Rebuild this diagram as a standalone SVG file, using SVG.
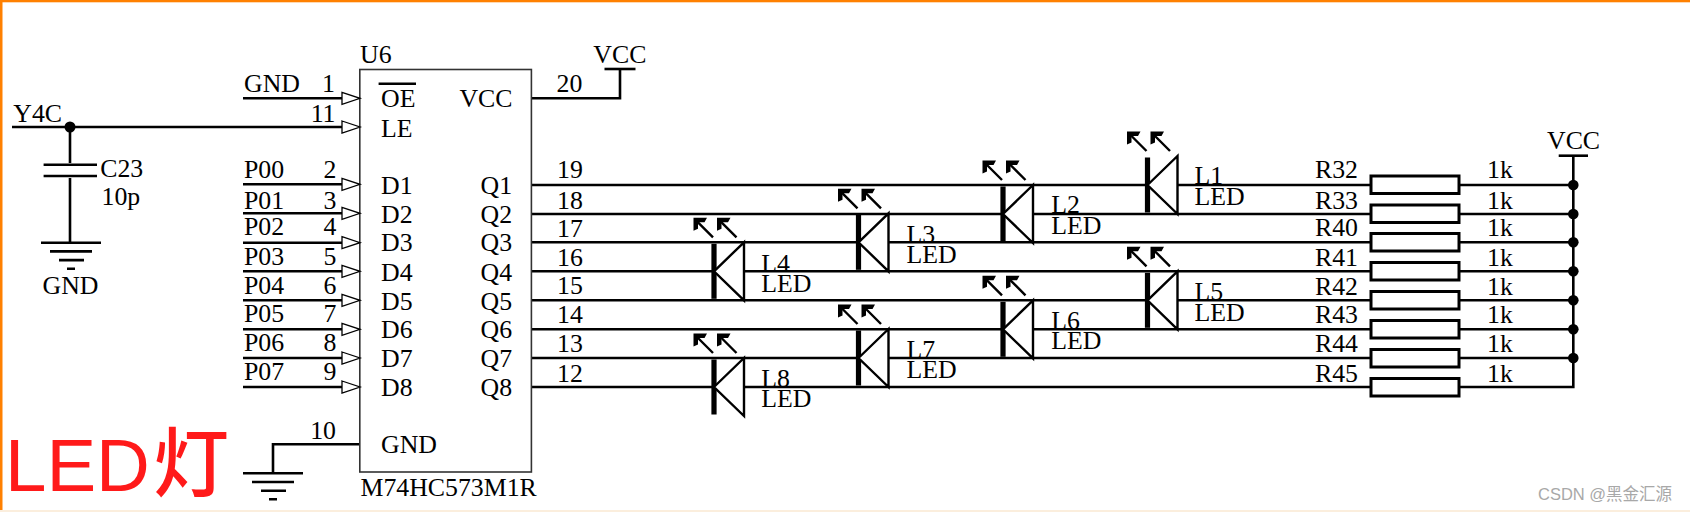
<svg xmlns="http://www.w3.org/2000/svg" xmlns:xlink="http://www.w3.org/1999/xlink" width="1690" height="512" viewBox="0 0 1690 512">
<style>
text{font-family:"Liberation Serif","Noto Sans CJK SC",serif;font-size:25.8px;fill:#000}
.w{fill:none;stroke:#000;stroke-width:2.6}
.thin{fill:none;stroke:#000;stroke-width:2.4}
.led{fill:#fff;stroke:#000;stroke-width:2.4}
.bar{fill:#000}
.res{fill:#fff;stroke:#000;stroke-width:3}
.dot{fill:#000}
.pin{fill:#fff;stroke:#000;stroke-width:1.3}
.r{text-anchor:end}
</style>
<defs>
<g id="ledsym">
<rect class="bar" x="-2.6" y="-27.5" width="5.2" height="55"/>
<path class="led" d="M0 0L30 -29V29Z"/>
<path class="thin" d="M-1 -34L-19 -52M22.500 -34L4.500 -52"/>
<path d="M-20.500 -53.500H-7L-9.500 -49H-16V-42.500L-20.500 -40.500Z M3 -53.500H16.500L14 -49H7.500V-42.500L3 -40.500Z" fill="#000"/>
</g>
<g id="gnd">
<path class="w" d="M-30 0H30M-21 8.700H21M-12 17.400H13M-4 26H4"/>
</g>
</defs>
<rect x="0" y="0" width="1690" height="512" fill="#fff"/>
<rect x="0" y="0" width="1690" height="2.300" fill="#ff8000"/>
<rect x="0" y="0" width="2.500" height="512" fill="#ff8000"/>
<rect x="0" y="510" width="1690" height="2" fill="#fbeedd"/>

<g id="connectors">
<path class="w" d="M243 98.300H342M12 127H342M70 127V242.700M243 184.300H342M243 213.300H342M243 242.700H342M243 271.300H342M243 300.300H342M243 329.300H342M243 358H342M243 387H342"/>
<path class="w" d="M360 444.300H273V473.300"/>
<path class="w" d="M531.500 98.300H620V69"/>
<path class="w" d="M531.500 185H1371M531.500 214H1371M531.500 242.300H1371M531.500 271.300H1371M531.500 300.300H1371M531.500 329.300H1371M531.500 358H1371M531.500 387H1371"/>
<path class="w" d="M1459 185H1573.300M1459 214H1573.300M1459 242.300H1573.300M1459 271.300H1573.300M1459 300.300H1573.300M1459 329.300H1573.300M1459 358H1573.300M1459 387H1573.300V155.700"/>
<g class="dot">
<circle cx="70" cy="127" r="5.500"/>
<circle cx="1573.300" cy="185" r="5.300"/><circle cx="1573.300" cy="214" r="5.300"/><circle cx="1573.300" cy="242.300" r="5.300"/><circle cx="1573.300" cy="271.300" r="5.300"/><circle cx="1573.300" cy="300.300" r="5.300"/><circle cx="1573.300" cy="329.300" r="5.300"/><circle cx="1573.300" cy="358" r="5.300"/>
</g>
</g>

<g id="net-Y4C"><text x="13.300" y="121.700">Y4C</text></g>
<g id="C23">
<rect x="43" y="163" width="54" height="15" fill="#fff"/>
<path class="w" d="M43.600 164.700H97M43.600 176H97"/>
<text x="100.200" y="176.700">C23</text><text x="101.500" y="205">10p</text>
</g>
<g id="gnd-C23"><use href="#gnd" xlink:href="#gnd" x="71" y="242.700"/><text x="42.600" y="294">GND</text></g>
<g id="gnd-U6"><use href="#gnd" xlink:href="#gnd" x="273" y="473.300"/></g>
<g id="vcc-U6">
<path class="w" d="M604.500 69H635.500"/><text x="593.300" y="62.500">VCC</text><text x="556.500" y="92.300">20</text>
</g>
<g id="vcc-rail">
<path class="w" d="M1558.700 155.700H1588"/><text x="1547" y="149.300">VCC</text>
</g>

<g id="U6">
<rect x="359.800" y="69.500" width="171.600" height="402.500" fill="none" stroke="#333" stroke-width="1.600"/>
<path class="pin" d="M342 92.300L360 98.300L342 104.300ZM342 121L360 127L342 133ZM342 178.300L360 184.300L342 190.300ZM342 207.300L360 213.300L342 219.300ZM342 236.700L360 242.700L342 248.700ZM342 265.300L360 271.300L342 277.300ZM342 294.300L360 300.300L342 306.300ZM342 323.300L360 329.300L342 335.300ZM342 352L360 358L342 364ZM342 381L360 387L342 393Z"/>
<path d="M378.600 83.700H416" stroke="#000" stroke-width="2.600"/>
<text x="360" y="62.700">U6</text>
<text x="381" y="106.700">OE</text><text x="381" y="136.700">LE</text>
<text x="381" y="194">D1</text><text x="381" y="223.300">D2</text><text x="381" y="251">D3</text><text x="381" y="281">D4</text><text x="381" y="310.300">D5</text><text x="381" y="338">D6</text><text x="381" y="367">D7</text><text x="381" y="396.300">D8</text>
<text x="381" y="453">GND</text>
<text x="512.500" y="106.700" class="r">VCC</text>
<text x="480.500" y="194">Q1</text><text x="480.500" y="223.300">Q2</text><text x="480.500" y="251">Q3</text><text x="480.500" y="281">Q4</text><text x="480.500" y="310.300">Q5</text><text x="480.500" y="338">Q6</text><text x="480.500" y="367">Q7</text><text x="480.500" y="396.300">Q8</text>
<text x="360.500" y="496.300">M74HC573M1R</text>
<text x="244" y="92">GND</text><text x="335" y="92" class="r">1</text>
<text x="335.500" y="121.700" class="r">11</text>
<text x="244" y="178.300">P00</text><text x="336.500" y="178.300" class="r">2</text>
<text x="244" y="208.500">P01</text><text x="336.500" y="208.500" class="r">3</text>
<text x="244" y="235">P02</text><text x="336.500" y="235" class="r">4</text>
<text x="244" y="265.300">P03</text><text x="336.500" y="265.300" class="r">5</text>
<text x="244" y="293.700">P04</text><text x="336.500" y="293.700" class="r">6</text>
<text x="244" y="322">P05</text><text x="336.500" y="322" class="r">7</text>
<text x="244" y="351">P06</text><text x="336.500" y="351" class="r">8</text>
<text x="244" y="380.300">P07</text><text x="336.500" y="380.300" class="r">9</text>
<text x="336" y="439" class="r">10</text>
<text x="557" y="178.300">19</text><text x="557" y="209">18</text><text x="557" y="236.700">17</text><text x="557" y="266">16</text><text x="557" y="294.300">15</text><text x="557" y="322.700">14</text><text x="557" y="351.700">13</text><text x="557" y="381.700">12</text>
</g>

<g id="L1"><use href="#ledsym" xlink:href="#ledsym" x="1147.500" y="185"/><text x="1194.500" y="184">L1</text><text x="1194.500" y="205">LED</text></g>
<g id="L2"><use href="#ledsym" xlink:href="#ledsym" x="1003" y="214"/><text x="1051.300" y="213.300">L2</text><text x="1051.300" y="234">LED</text></g>
<g id="L3"><use href="#ledsym" xlink:href="#ledsym" x="858.500" y="242.300"/><text x="906.500" y="242.700">L3</text><text x="906.500" y="263.300">LED</text></g>
<g id="L4"><use href="#ledsym" xlink:href="#ledsym" x="714" y="271.300"/><text x="761.300" y="271.700">L4</text><text x="761.300" y="291.700">LED</text></g>
<g id="L5"><use href="#ledsym" xlink:href="#ledsym" x="1147.500" y="300.300"/><text x="1194.500" y="300">L5</text><text x="1194.500" y="320.700">LED</text></g>
<g id="L6"><use href="#ledsym" xlink:href="#ledsym" x="1003" y="329.300"/><text x="1051.300" y="329.300">L6</text><text x="1051.300" y="349">LED</text></g>
<g id="L7"><use href="#ledsym" xlink:href="#ledsym" x="858.500" y="358"/><text x="906.500" y="357.700">L7</text><text x="906.500" y="377.700">LED</text></g>
<g id="L8"><use href="#ledsym" xlink:href="#ledsym" x="714" y="387"/><text x="761.300" y="387">L8</text><text x="761.300" y="407.300">LED</text></g>

<g id="R32"><rect class="res" x="1371" y="176" width="88" height="17.500"/><text x="1315" y="178.300">R32</text><text x="1487" y="178.300">1k</text></g>
<g id="R33"><rect class="res" x="1371" y="205" width="88" height="17.500"/><text x="1315" y="209">R33</text><text x="1487" y="209">1k</text></g>
<g id="R40"><rect class="res" x="1371" y="233.500" width="88" height="17.500"/><text x="1315" y="236">R40</text><text x="1487" y="236">1k</text></g>
<g id="R41"><rect class="res" x="1371" y="262.500" width="88" height="17.500"/><text x="1315" y="266">R41</text><text x="1487" y="266">1k</text></g>
<g id="R42"><rect class="res" x="1371" y="291.500" width="88" height="17.500"/><text x="1315" y="295">R42</text><text x="1487" y="295">1k</text></g>
<g id="R43"><rect class="res" x="1371" y="320.500" width="88" height="17.500"/><text x="1315" y="322.700">R43</text><text x="1487" y="322.700">1k</text></g>
<g id="R44"><rect class="res" x="1371" y="349.500" width="88" height="17.500"/><text x="1315" y="351.700">R44</text><text x="1487" y="351.700">1k</text></g>
<g id="R45"><rect class="res" x="1371" y="378.500" width="88" height="17.500"/><text x="1315" y="381.700">R45</text><text x="1487" y="381.700">1k</text></g>

<text x="5" y="491.300" style="font-family:'Liberation Sans','Noto Sans CJK SC',sans-serif;font-size:74.500px;fill:#ff1a1a">LED<tspan dx="3" style="font-size:76px;font-weight:500">灯</tspan></text>
<text x="1538" y="500" style="font-family:'Liberation Sans','Noto Sans CJK SC',sans-serif;font-size:16.500px;fill:#a8a8a8">CSDN @黑金汇源</text>
</svg>
